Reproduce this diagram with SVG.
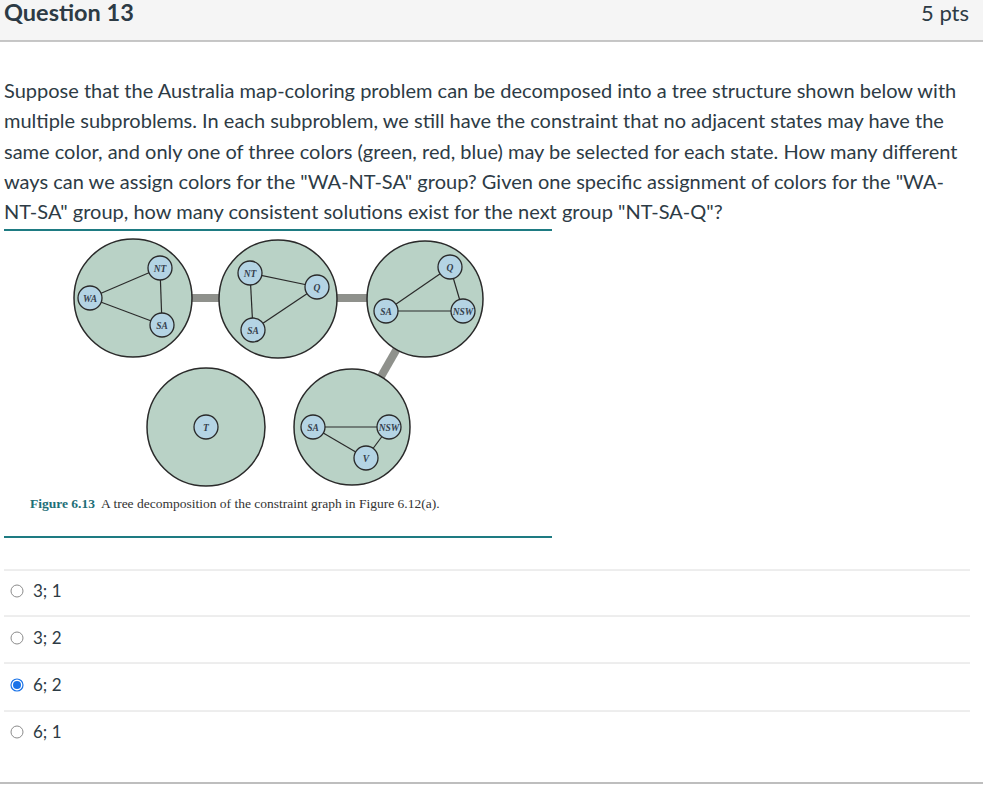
<svg xmlns="http://www.w3.org/2000/svg" width="983" height="805" viewBox="0 0 983 805">
<style>
.body{font-family:Lato,"Open Sans",sans-serif;font-size:20px;fill:#2d3b45}
.big{font-family:Lato,sans-serif;font-weight:bold;font-size:23.5px;fill:#2d3b45}
.pts{font-family:Lato,sans-serif;font-size:22px;fill:#2d3b45}
.bag{fill:#b9d2c6;stroke:#2a2a2a;stroke-width:1.5}
.v{fill:#b4d4e4;stroke:#2a2a2a;stroke-width:1.3}
.e{stroke:#2a2a2a;stroke-width:1.2;fill:none}
.lbl{font-family:"Liberation Serif",serif;font-style:italic;font-weight:bold;font-size:9.5px;fill:#34404c;text-anchor:middle}
.tree{stroke:#8f918c;stroke-width:8;fill:none}
.opt{font-family:Lato,sans-serif;font-size:17px;fill:#2d3b45}
.sep{stroke:#dcdcdc;stroke-width:1}
.radio{fill:#fff;stroke:#8c8c8c;stroke-width:1}
</style>
<rect width="983" height="805" fill="#fff"/>
<g id="header">
<rect x="0" y="0" width="983" height="41" fill="#f5f5f5"/>
<line x1="0" y1="41" x2="983" y2="41" stroke="#b5b5b5" stroke-width="1.5"/>
<text class="big" x="4" y="21">Question 13</text>
<text class="pts" x="969" y="21" text-anchor="end">5 pts</text>
</g>
<g id="question">
<text class="body" x="4" y="98">Suppose that the Australia map-coloring problem can be decomposed into a tree structure shown below with</text>
<text class="body" x="4" y="128">multiple subproblems. In each subproblem, we still have the constraint that no adjacent states may have the</text>
<text class="body" x="4" y="159">same color, and only one of three colors (green, red, blue) may be selected for each state. How many different</text>
<text class="body" x="4" y="189">ways can we assign colors for the "WA-NT-SA" group? Given one specific assignment of colors for the "WA-</text>
<text class="body" x="4" y="219">NT-SA" group, how many consistent solutions exist for the next group "NT-SA-Q"?</text>
<line x1="4" y1="230" x2="552" y2="230" stroke="#1e7b82" stroke-width="2"/>
</g>
<g id="connectors">
<line class="tree" x1="133" y1="298" x2="278" y2="298"/>
<line class="tree" x1="278" y1="298" x2="425" y2="298"/>
<line class="tree" x1="425" y1="300" x2="352" y2="427"/>
</g>
<g id="bag-wa-nt-sa">
<circle class="bag" cx="133" cy="298" r="59"/>
<line class="e" x1="90" y1="298" x2="160" y2="268"/>
<line class="e" x1="90" y1="298" x2="162" y2="325"/>
<line class="e" x1="160" y1="268" x2="162" y2="325"/>
<circle class="v" cx="160" cy="268" r="12"/><text class="lbl" x="160" y="271.5">NT</text>
<circle class="v" cx="90" cy="298" r="12"/><text class="lbl" x="90" y="301.5">WA</text>
<circle class="v" cx="162" cy="325" r="12"/><text class="lbl" x="162" y="328.5">SA</text>
</g>
<g id="bag-nt-sa-q">
<circle class="bag" cx="278" cy="299" r="59"/>
<line class="e" x1="250" y1="273" x2="317" y2="287"/>
<line class="e" x1="250" y1="273" x2="253" y2="330"/>
<line class="e" x1="253" y1="330" x2="317" y2="287"/>
<circle class="v" cx="250" cy="273" r="12"/><text class="lbl" x="250" y="276.5">NT</text>
<circle class="v" cx="253" cy="330" r="12"/><text class="lbl" x="253" y="333.5">SA</text>
<circle class="v" cx="317" cy="287" r="12"/><text class="lbl" x="317" y="290.5">Q</text>
</g>
<g id="bag-sa-q-nsw">
<circle class="bag" cx="425" cy="299" r="58"/>
<line class="e" x1="386" y1="311" x2="450" y2="267"/>
<line class="e" x1="386" y1="311" x2="463" y2="311"/>
<line class="e" x1="450" y1="267" x2="463" y2="311"/>
<circle class="v" cx="450" cy="267" r="12"/><text class="lbl" x="450" y="270.5">Q</text>
<circle class="v" cx="386" cy="311" r="12"/><text class="lbl" x="386" y="314.5">SA</text>
<circle class="v" cx="463" cy="311" r="12"/><text class="lbl" x="463" y="314.5">NSW</text>
</g>
<g id="bag-t">
<circle class="bag" cx="206" cy="427" r="59"/>
<circle class="v" cx="206" cy="427" r="12"/><text class="lbl" x="206" y="430.5">T</text>
</g>
<g id="bag-sa-nsw-v">
<circle class="bag" cx="352" cy="427" r="58"/>
<line class="e" x1="313" y1="427" x2="389" y2="427"/>
<line class="e" x1="313" y1="427" x2="366" y2="458"/>
<line class="e" x1="389" y1="427" x2="366" y2="458"/>
<circle class="v" cx="313" cy="427" r="12"/><text class="lbl" x="313" y="430.5">SA</text>
<circle class="v" cx="389" cy="427" r="12"/><text class="lbl" x="389" y="430.5">NSW</text>
<circle class="v" cx="366" cy="458" r="12"/><text class="lbl" x="366" y="461.5">V</text>
</g>
<g id="caption">
<text x="30" y="508" font-family="Liberation Serif,serif" font-size="13.5px" fill="#333"><tspan font-weight="bold" fill="#1e6f78">Figure 6.13</tspan><tspan dx="6">A tree decomposition of the constraint graph in Figure 6.12(a).</tspan></text>
<line x1="4" y1="537" x2="552" y2="537" stroke="#1e7b82" stroke-width="2"/>
</g>
<g id="answers">
<line class="sep" x1="4" y1="570" x2="970" y2="570"/>
<circle class="radio" cx="17" cy="591" r="6"/>
<text class="opt" x="33" y="597">3; 1</text>
<line class="sep" x1="4" y1="616" x2="970" y2="616"/>
<circle class="radio" cx="17" cy="638" r="6"/>
<text class="opt" x="33" y="644">3; 2</text>
<line class="sep" x1="4" y1="663" x2="970" y2="663"/>
<circle cx="17" cy="685" r="6" fill="#fff" stroke="#1a73e8" stroke-width="1.2"/>
<circle cx="17" cy="685" r="4" fill="#1a73e8"/>
<text class="opt" x="33" y="691">6; 2</text>
<line class="sep" x1="4" y1="711" x2="970" y2="711"/>
<circle class="radio" cx="17" cy="732" r="6"/>
<text class="opt" x="33" y="738">6; 1</text>
<line x1="0" y1="783" x2="983" y2="783" stroke="#a8a8a8" stroke-width="1.5"/>
</g>
</svg>
